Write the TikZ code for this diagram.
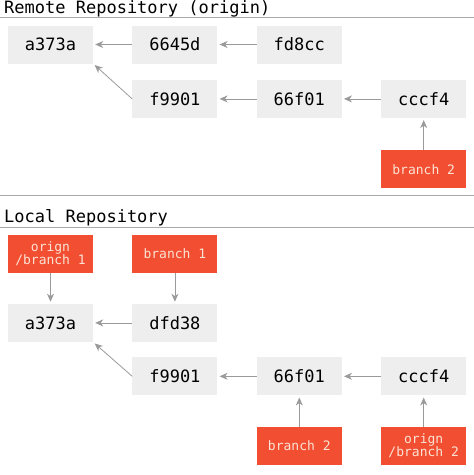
\documentclass[tikz,border=0pt]{standalone}
\usepackage{fontspec}
\setmonofont{DejaVu Sans Mono}
\usetikzlibrary{positioning, arrows.meta}

\definecolor{commitgray}{HTML}{EEEEEE}
\definecolor{branchred}{HTML}{F14E32}
\definecolor{branchtext}{HTML}{FCE3D4}
\definecolor{linkgray}{HTML}{9A9A9A}

\begin{document}
\begin{tikzpicture}[
    x=1pt, y=1pt,
    node distance=16pt and 39pt,
    % Styles
    commit/.style={fill=commitgray, minimum width=85pt, minimum height=38pt, inner sep=0pt, font=\ttfamily\fontsize{17}{17}\selectfont},
    branch/.style={fill=branchred, text=branchtext, minimum width=85pt, minimum height=38pt, inner sep=0pt, align=center, font=\ttfamily\fontsize{13}{11}\selectfont},
    link/.style={-{Stealth[length=8pt, width=7pt, inset=2.5pt]}, linkgray, line width=0.8pt, shorten >=2pt},
    heading/.style={anchor=base west, inner sep=0pt, font=\ttfamily\fontsize{17}{17}\selectfont},
    rule/.style={draw=linkgray!85, line width=1pt},
]
\useasboundingbox (0,0) rectangle (474,-475);

% Remote repository
\node[heading] (remote-title) at (4,-13) {Remote Repository (origin)};
\draw[rule] (0,-17) -- (474,-17);

\node[commit] (r-a373a) at (50.5,-44.5) {a373a};
\node[commit, right=of r-a373a] (r-6645d) {6645d};
\node[commit, right=of r-6645d] (r-fd8cc) {fd8cc};
\node[commit, below=of r-6645d] (r-f9901) {f9901};
\node[commit, right=of r-f9901] (r-66f01) {66f01};
\node[commit, right=of r-66f01] (r-cccf4) {cccf4};
\node[branch, below=32pt of r-cccf4] (r-branch2) {branch 2};

\draw[link] (r-6645d) -- (r-a373a);
\draw[link] (r-fd8cc) -- (r-6645d);
\draw[link] (r-f9901.west) -- (r-a373a.south east);
\draw[link] (r-66f01) -- (r-f9901);
\draw[link] (r-cccf4) -- (r-66f01);
\draw[link] (r-branch2) -- (r-cccf4);

\draw[rule] (0,-195) -- (474,-195);

% Local repository
\node[heading] (local-title) at (4,-222) {Local Repository};
\draw[rule] (0,-227) -- (474,-227);

\node[branch] (l-origin1) at (50.5,-253.5) {orign\\/branch 1};
\node[branch, right=of l-origin1] (l-branch1) {branch 1};
\node[commit, below=31pt of l-origin1] (l-a373a) {a373a};
\node[commit, below=31pt of l-branch1] (l-dfd38) {dfd38};
\node[commit, below=15pt of l-dfd38] (l-f9901) {f9901};
\node[commit, right=of l-f9901] (l-66f01) {66f01};
\node[commit, right=of l-66f01] (l-cccf4) {cccf4};
\node[branch, below=31pt of l-66f01] (l-branch2) {branch 2};
\node[branch, below=31pt of l-cccf4] (l-origin2) {orign\\/branch 2};

\draw[link] (l-origin1) -- (l-a373a);
\draw[link] (l-branch1) -- (l-dfd38);
\draw[link] (l-dfd38) -- (l-a373a);
\draw[link] (l-f9901.west) -- (l-a373a.south east);
\draw[link] (l-66f01) -- (l-f9901);
\draw[link] (l-cccf4) -- (l-66f01);
\draw[link] (l-branch2) -- (l-66f01);
\draw[link] (l-origin2) -- (l-cccf4);

\end{tikzpicture}
\end{document}
